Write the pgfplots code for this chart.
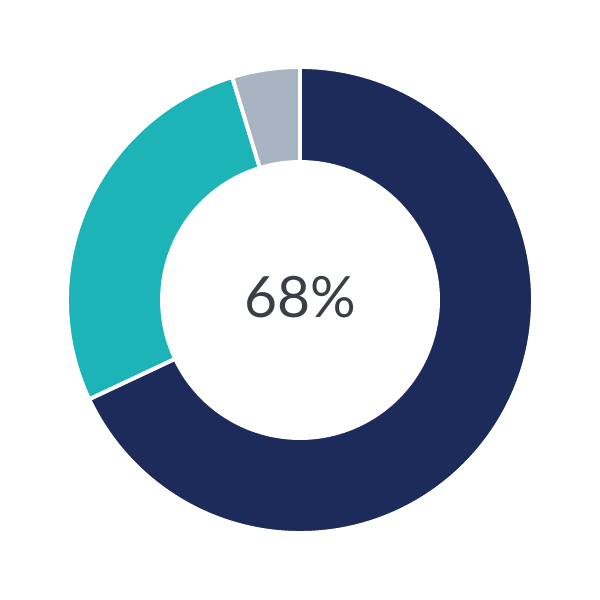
\documentclass[border=0pt]{standalone}
\usepackage{pgfplots}
\usepackage{pgfplotstable}
\pgfplotsset{compat=1.18}
\usepackage{fontspec}
\newfontfamily\numfont{Lato}
\definecolor{navy}{HTML}{1C2B5A}
\definecolor{teal}{HTML}{1CB4B7}
\definecolor{slate}{HTML}{A9B4C3}
\definecolor{txt}{HTML}{3A3F47}
\pgfplotstableread{
label value
Navy 68
Teal 27.3
Gray 4.7
}\data
\pgfplotstablegetelem{0}{value}\of\data \let\va\pgfplotsretval
\pgfplotstablegetelem{1}{value}\of\data \let\vb\pgfplotsretval
\pgfplotstablegetelem{2}{value}\of\data \let\vc\pgfplotsretval
\pgfmathsetmacro\aA{90}
\pgfmathsetmacro\aB{90-3.6*\va}
\pgfmathsetmacro\aC{\aB-3.6*\vb}
\pgfmathsetmacro\aD{\aC-3.6*\vc}
\begin{document}
\begin{tikzpicture}
\path[use as bounding box] (0,0) rectangle (10cm,10cm);
\begin{axis}[at={(0,0)},anchor=south west,
  width=10cm,height=10cm,scale only axis,
  xmin=-300,xmax=300,ymin=-300,ymax=300,hide axis]
\def\Ro{233}\def\Ri{138}
\def\seg#1#2#3{%
  \filldraw[fill=#1,draw=white,line width=1.85pt]
    (axis cs:{\Ro*cos(#2)},{\Ro*sin(#2)})
    arc[start angle=#2,end angle=#3,radius=\Ro/60*1cm]
    -- (axis cs:{\Ri*cos(#3)},{\Ri*sin(#3)})
    arc[start angle=#3,end angle=#2,radius=\Ri/60*1cm] -- cycle;}
\seg{navy}{\aA}{\aB}
\seg{teal}{\aB}{\aC}
\seg{slate}{\aC}{\aD}
\node[text=txt,font=\numfont\fontsize{27}{30}\selectfont] at (axis cs:0,3) {68\%};
\end{axis}
\end{tikzpicture}
\end{document}
